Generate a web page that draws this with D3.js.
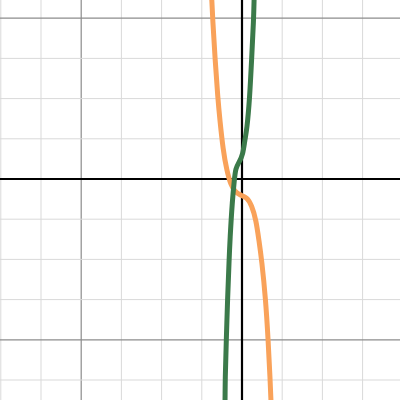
<!DOCTYPE html>
<html><head><meta charset="utf-8">
<script src="https://cdn.jsdelivr.net/npm/d3@7"></script>
<style>body{margin:0;background:#fff}svg{display:block}</style>
</head><body>
<svg id="c" width="400" height="400"></svg>
<script>
const greenX=[-0.43,-0.42,-0.42,-0.39,-0.36,-0.32,-0.30,-0.24,-0.19,-0.16,-0.07,0.02,0.07,0.12,0.19,0.24,0.29,0.30,0.31];
const greenY=[-5.8,-5.50,-5.00,-4.00,-3.01,-2.01,-1.52,-0.52,-0.02,0.27,0.42,0.60,0.97,1.22,1.99,2.99,3.98,4.45,4.8];
const orangeX=[-0.77,-0.75,-0.73,-0.67,-0.60,-0.55,-0.47,-0.38,-0.28,-0.17,-0.05,0.12,0.24,0.35,0.42,0.49,0.59,0.65,0.70,0.72,0.73];
const orangeY=[4.8,4.45,3.98,2.99,1.99,1.47,0.72,0.22,-0.15,-0.32,-0.40,-0.45,-0.65,-1.02,-1.52,-2.01,-3.01,-4.00,-5.00,-5.50,-5.8];
const gridTicksX=d3.range(-6,5);
const gridTicksY=d3.range(-6,6);
const majorStep=4;

const u=40.2, W=400, H=400;
const x=d3.scaleLinear().domain([-242/u,(W-242)/u]).range([0,W]);
const y=d3.scaleLinear().domain([-(H-179)/u,179/u]).range([H,0]);
const svg=d3.select("#c");
const g=svg.append("g");
gridTicksX.forEach(t=>{
  const major=t%majorStep===0;
  g.append("line").attr("x1",x(t)).attr("x2",x(t)).attr("y1",0).attr("y2",H)
   .attr("stroke",major?"#8c8c8c":"#d9d9d9").attr("stroke-width",major?1.2:1);
});
gridTicksY.forEach(t=>{
  const major=t%majorStep===0;
  g.append("line").attr("y1",y(t)).attr("y2",y(t)).attr("x1",0).attr("x2",W)
   .attr("stroke",major?"#8c8c8c":"#d9d9d9").attr("stroke-width",major?1.2:1);
});
g.append("line").attr("x1",x(0)).attr("x2",x(0)).attr("y1",0).attr("y2",H).attr("stroke","#000").attr("stroke-width",2.2);
g.append("line").attr("y1",y(0)).attr("y2",y(0)).attr("x1",0).attr("x2",W).attr("stroke","#000").attr("stroke-width",2.2);
const line=d3.line().x(d=>x(d[0])).y(d=>y(d[1])).curve(d3.curveBasis);
svg.append("path").datum(orangeX.map((v,i)=>[v,orangeY[i]])).attr("d",line)
  .attr("fill","none").attr("stroke","#f9a25a").attr("stroke-width",5).attr("stroke-linecap","round");
svg.append("path").datum(greenX.map((v,i)=>[v,greenY[i]])).attr("d",line)
  .attr("fill","none").attr("stroke","#3b7a4a").attr("stroke-width",5).attr("stroke-linecap","round");
</script>
</body></html>
